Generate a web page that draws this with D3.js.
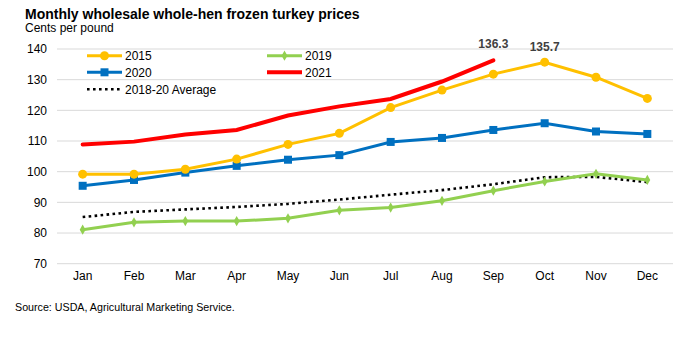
<!DOCTYPE html>
<html>
<head>
<meta charset="utf-8">
<script src="https://cdn.jsdelivr.net/npm/d3@7"></script>
<style>
	body { margin: 0; background: #fff; }
	svg { font-family: "Liberation Sans", Arial, sans-serif; }
</style>
</head>
<body>
<svg></svg>
<script>
var months = ["Jan", "Feb", "Mar", "Apr", "May", "Jun", "Jul", "Aug", "Sep", "Oct", "Nov", "Dec"];
var yTicks = [70, 80, 90, 100, 110, 120, 130, 140];

var y2015 = [99.2, 99.2, 100.8, 104.1, 108.9, 112.5, 120.9, 126.6, 131.8, 135.7, 130.8, 123.9];
var y2019 = [81.1, 83.5, 83.9, 83.9, 84.8, 87.4, 88.3, 90.5, 93.8, 96.8, 99.3, 97.3];
var y2020 = [95.4, 97.3, 99.7, 101.9, 103.9, 105.4, 109.7, 111.0, 113.6, 115.8, 113.1, 112.3];
var y2021 = [108.9, 109.8, 112.1, 113.6, 118.3, 121.3, 123.7, 129.4, 136.3];
var avg1820 = [85.2, 86.9, 87.7, 88.5, 89.5, 90.9, 92.5, 94.0, 95.9, 98.2, 98.3, 96.6];

var svgWidth = 689;
var svgHeight = 349;

var svg = d3.select("svg")
	.attr("width", svgWidth)
	.attr("height", svgHeight);

var xScale = d3.scaleBand()
	.domain(months)
	.range([57, 673]);

var yScale = d3.scaleLinear()
	.domain([70, 140])
	.range([263.7, 49]);

function xMid(i) {
	return xScale(months[i]) + xScale.bandwidth() / 2;
}

// title
svg.append("text")
	.attr("x", 25)
	.attr("y", 18.5)
	.attr("font-size", 14)
	.attr("font-weight", "bold")
	.text("Monthly wholesale whole-hen frozen turkey prices");

svg.append("text")
	.attr("x", 25)
	.attr("y", 32)
	.attr("font-size", 12)
	.text("Cents per pound");

// gridlines
svg.append("g")
	.selectAll("line")
	.data(yTicks)
	.enter()
	.append("line")
	.attr("x1", 57)
	.attr("x2", 673)
	.attr("y1", function(d) { return yScale(d); })
	.attr("y2", function(d) { return yScale(d); })
	.attr("stroke", "#d9d9d9")
	.attr("stroke-width", 1);

var yAxis = d3.axisLeft(yScale)
	.tickValues(yTicks)
	.tickSize(0)
	.tickPadding(0);

svg.append("g")
	.attr("transform", "translate(47,0)")
	.call(yAxis)
	.call(function(g) { g.select(".domain").remove(); })
	.selectAll("text")
	.attr("font-size", 12)
	.attr("font-family", "Liberation Sans, Arial, sans-serif")
	.attr("fill", "#000");

var xAxis = d3.axisBottom(xScale)
	.tickSize(0)
	.tickPadding(0);

svg.append("g")
	.attr("transform", "translate(0,271)")
	.call(xAxis)
	.call(function(g) { g.select(".domain").remove(); })
	.selectAll("text")
	.attr("font-size", 12)
	.attr("font-family", "Liberation Sans, Arial, sans-serif")
	.attr("fill", "#000");

var line = d3.line()
	.x(function(d, i) { return xMid(i); })
	.y(function(d) { return yScale(d); });

// dotted average
svg.append("path")
	.attr("d", line(avg1820))
	.attr("fill", "none")
	.attr("stroke", "#000")
	.attr("stroke-width", 2.6)
	.attr("stroke-dasharray", "2.6,3.4");

svg.append("path")
	.attr("d", line(y2019))
	.attr("fill", "none")
	.attr("stroke", "#92d050")
	.attr("stroke-width", 3);

svg.append("g")
	.selectAll("path")
	.data(y2019)
	.enter()
	.append("path")
	.attr("d", d3.symbol().type(d3.symbolDiamond).size(30))
	.attr("transform", function(d, i) {
		return "translate(" + xMid(i) + "," + yScale(d) + ")";
	})
	.attr("fill", "#92d050");

svg.append("path")
	.attr("d", line(y2020))
	.attr("fill", "none")
	.attr("stroke", "#0070c0")
	.attr("stroke-width", 3);

svg.append("g")
	.selectAll("rect")
	.data(y2020)
	.enter()
	.append("rect")
	.attr("x", function(d, i) { return xMid(i) - 4; })
	.attr("y", function(d) { return yScale(d) - 4; })
	.attr("width", 8)
	.attr("height", 8)
	.attr("fill", "#0070c0");

svg.append("path")
	.attr("d", line(y2015))
	.attr("fill", "none")
	.attr("stroke", "#ffc000")
	.attr("stroke-width", 3);

svg.append("g")
	.selectAll("circle")
	.data(y2015)
	.enter()
	.append("circle")
	.attr("cx", function(d, i) { return xMid(i); })
	.attr("cy", function(d) { return yScale(d); })
	.attr("r", 4.5)
	.attr("fill", "#ffc000");

svg.append("path")
	.attr("d", line(y2021))
	.attr("fill", "none")
	.attr("stroke", "#ff0000")
	.attr("stroke-width", 4)
	.attr("stroke-linecap", "round");

// value labels
var peaks = [
	{ i: 8, v: y2021[8], dy: -12 },
	{ i: 9, v: y2015[9], dy: -11 }
];

svg.append("g")
	.selectAll("text")
	.data(peaks)
	.enter()
	.append("text")
	.attr("x", function(d) { return xMid(d.i); })
	.attr("y", function(d) { return yScale(d.v) + d.dy; })
	.attr("text-anchor", "middle")
	.attr("font-size", 12)
	.attr("font-weight", "bold")
	.attr("fill", "#404040")
	.text(function(d) { return d.v.toFixed(1); });

// legend
var legend = svg.append("g");

function legendItem(x, y, label, color, width, marker, dotted) {
	var g = legend.append("g").attr("transform", "translate(" + x + "," + y + ")");
	g.append("line")
		.attr("x1", 0)
		.attr("x2", 35)
		.attr("stroke", color)
		.attr("stroke-width", width)
		.attr("stroke-dasharray", dotted ? "2.6,3.4" : null);
	if (marker == "circle") {
		g.append("circle").attr("cx", 17.5).attr("r", 4.5).attr("fill", color);
	} else if (marker == "square") {
		g.append("rect").attr("x", 13.5).attr("y", -4).attr("width", 8).attr("height", 8).attr("fill", color);
	} else if (marker == "diamond") {
		g.append("path").attr("d", d3.symbol().type(d3.symbolDiamond).size(30)).attr("transform", "translate(17.5,0)").attr("fill", color);
	}
	g.append("text")
		.attr("x", 38)
		.attr("y", 0)
		.attr("dy", "0.35em")
		.attr("font-size", 12)
		.text(label);
}

legendItem(87, 55.7, "2015", "#ffc000", 3, "circle");
legendItem(267, 55.7, "2019", "#92d050", 3, "diamond");
legendItem(87, 72.3, "2020", "#0070c0", 3, "square");
legendItem(267, 72.3, "2021", "#ff0000", 4);
legendItem(87, 89.3, "2018-20 Average", "#000", 2.6, null, true);

// source note
svg.append("text")
	.attr("x", 15)
	.attr("y", 310.5)
	.attr("font-size", 10.7)
	.text("Source: USDA, Agricultural Marketing Service.");
</script>
</body>
</html>
